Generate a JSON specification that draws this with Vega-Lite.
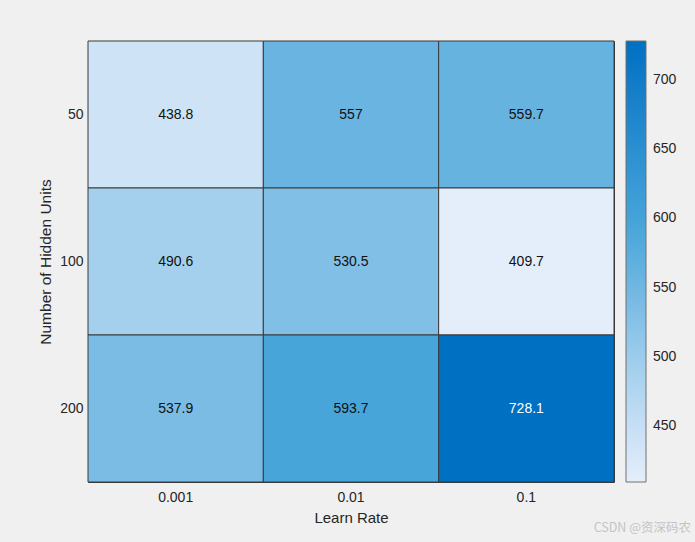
{
  "$schema": "https://vega.github.io/schema/vega-lite/v6.json",
  "autosize": "none",
  "width": 526,
  "height": 441,
  "padding": {"left": 88, "top": 41, "right": 81, "bottom": 60},
  "background": "#f0f0f0",
  "config": {
    "view": {"stroke": "#3a3a3a", "strokeWidth": 1},
    "font": "Liberation Sans"
  },
  "title": {
    "text": "CSDN @资深码农",
    "orient": "bottom",
    "anchor": "end",
    "font": "Noto Sans CJK SC",
    "fontSize": 12.5,
    "fontWeight": "normal",
    "color": "#c4c4c4",
    "offset": -3,
    "dx": 14
  },
  "data": {
    "values": [
      {"lr": "0.001", "hu": "50", "v": 438.8},
      {"lr": "0.01", "hu": "50", "v": 557},
      {"lr": "0.1", "hu": "50", "v": 559.7},
      {"lr": "0.001", "hu": "100", "v": 490.6},
      {"lr": "0.01", "hu": "100", "v": 530.5},
      {"lr": "0.1", "hu": "100", "v": 409.7},
      {"lr": "0.001", "hu": "200", "v": 537.9},
      {"lr": "0.01", "hu": "200", "v": 593.7},
      {"lr": "0.1", "hu": "200", "v": 728.1}
    ]
  },
  "encoding": {
    "x": {
      "field": "lr", "type": "ordinal", "sort": ["0.001", "0.01", "0.1"],
      "scale": {"paddingInner": 0, "paddingOuter": 0},
      "axis": {
        "title": "Learn Rate", "labelAngle": 0, "ticks": false, "domain": false,
        "labelFontSize": 14, "labelColor": "#262626", "labelPadding": 8,
        "titleFontSize": 15, "titleFontWeight": "normal", "titleColor": "#262626", "titlePadding": 6
      }
    },
    "y": {
      "field": "hu", "type": "ordinal", "sort": ["50", "100", "200"],
      "scale": {"paddingInner": 0, "paddingOuter": 0},
      "axis": {
        "title": "Number of Hidden Units", "ticks": false, "domain": false,
        "labelFontSize": 14, "labelColor": "#262626", "labelPadding": 5,
        "titleFontSize": 15.5, "titleFontWeight": "normal", "titleColor": "#262626", "titlePadding": 6
      }
    }
  },
  "layer": [
    {
      "mark": {"type": "rect", "stroke": "#3a3a3a", "strokeWidth": 1},
      "encoding": {
        "color": {
          "field": "v", "type": "quantitative",
          "scale": {
            "domain": [409.7, 490.6, 557, 593.7, 728.1],
            "range": ["#e4eefa", "#a4d0ee", "#69b4e0", "#47a5da", "#0070c2"]
          },
          "legend": {
            "title": null,
            "orient": "right",
            "offset": 12,
            "direction": "vertical",
            "gradientLength": 441,
            "gradientThickness": 20,
            "gradientStrokeColor": "#707070",
            "gradientStrokeWidth": 1,
            "values": [450, 500, 550, 600, 650, 700],
            "labelFontSize": 14,
            "labelColor": "#262626",
            "labelOffset": 7
          }
        }
      }
    },
    {
      "mark": {"type": "text", "fontSize": 14},
      "encoding": {
        "text": {"field": "v", "type": "quantitative"},
        "color": {
          "condition": {"test": "datum.v > 650", "value": "#ffffff"},
          "value": "#111111"
        }
      }
    }
  ]
}
